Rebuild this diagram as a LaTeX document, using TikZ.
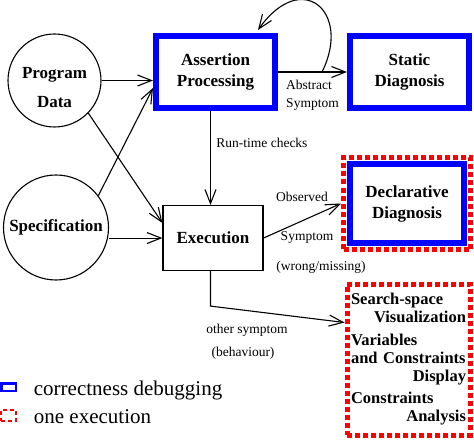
\documentclass[tikz,border=0pt]{standalone}
\usepackage{fontspec}
\setmainfont{Liberation Serif}
\usetikzlibrary{arrows.meta,positioning,fit}

\begin{document}
\begin{tikzpicture}[x=1pt,y=1pt,line width=1.1pt,
  >={Straight Barb[length=14pt,width=11pt]},
  box/.style={draw,rectangle,align=center,font=\bfseries\fontsize{17}{21}\selectfont},
  corr/.style={box,draw=blue,line width=6pt,minimum width=119pt,minimum height=72pt},
  dotbox/.style={draw=red,line width=5pt,dash pattern=on 5pt off 3pt},
  blob/.style={draw,circle,inner sep=0pt,align=center,font=\bfseries\fontsize{17}{29}\selectfont},
  lbl/.style={align=left,font=\fontsize{13.5}{18}\selectfont},
  legtxt/.style={anchor=base west,font=\fontsize{21}{25}\selectfont}]
  \useasboundingbox (0,0) rectangle (474,440);

  \node[corr]                      (assert) at (215.5,368)            {Assertion\\Processing};
  \node[corr]                      (static) [right=69pt of assert]    {Static\\Diagnosis};
  \node[blob, minimum size=93pt]   (prog)   at (54.5,359.5)           {\rule{0pt}{26pt}Program\\Data};
  \node[blob, minimum size=105pt]  (spec)   at (56,212.5)             {Specification};
  \node[box, minimum width=100pt, minimum height=65pt]
                                   (exec)   [below=94pt of assert, xshift=-2.5pt] {Execution};
  \node[corr, minimum width=114pt, minimum height=79pt]
                                   (decl)   at (407,236.5)            {Declarative\\Diagnosis};
  \node[dotbox, fit=(decl), inner sep=3.5pt] (declone) {};
  \node[dotbox, minimum width=123pt, minimum height=151pt, text width=115pt, inner xsep=2pt,
        align=left, font=\bfseries\fontsize{16.5}{18}\selectfont]
                                   (search) at (408.5,80.5)
  {Search-space\\\hspace*{0pt plus 1filll}Visualization\\[4.5pt]
   Variables\\and Constraints\\\hspace*{0pt plus 1filll}Display\\[4.5pt]
   Constraints\\\hspace*{0pt plus 1filll}Analysis};

  \coordinate (lpst)  at (322,368);
  \coordinate (lpend) at (258,410);

  \path[->]
  (prog)
  edge (prog -| assert.west)
  (prog.-44)
  edge ([yshift=15pt]exec.west)

  (spec.37)
  edge ([yshift=-16pt]assert.west)
  (spec.east |- exec)
  edge (exec.west)

  (assert)
  edge
  node[lbl, below=4pt] (abs) {Abstract\\Symptom} (static)
  ([xshift=-2.5pt]exec.north |- assert.south)
  edge
  node[lbl, right=2pt, pos=.34] (rtc) {Run-time checks} ([xshift=-2.5pt]exec.north)

  (exec.east)
  edge (declone.west)
  ;

  \draw[->] (lpst) .. controls (352,428) and (302,472) .. (lpend);
  \draw[->] ([xshift=-2.5pt]exec.south) -- ++(0,-35) -- ([yshift=37pt]search.west);

  \node[lbl] (obs) at (302,243) {Observed};
  \node[lbl] (sym) at (307,203) {Symptom};
  \node[lbl] (wm)  at (321,173) {(wrong/missing)};
  \node[lbl] (oth) at (247,110) {other symptom};
  \node[lbl] (beh) at (243,87)  {(behaviour)};

  % legend
  \node[draw=blue, line width=2.5pt, minimum width=14.5pt, minimum height=7.5pt, inner sep=0pt] (lgc) at (8.5,53) {};
  \node[legtxt] (lgctxt) at (30,45) {correctness debugging};
  \node[draw=red, line width=2pt, dash pattern=on 4pt off 3pt, minimum width=15pt, minimum height=11pt, inner sep=0pt] (lgo) at (8.5,24.5) {};
  \node[legtxt] (lgotxt) at (30,17) {one execution};
\end{tikzpicture}
\end{document}
